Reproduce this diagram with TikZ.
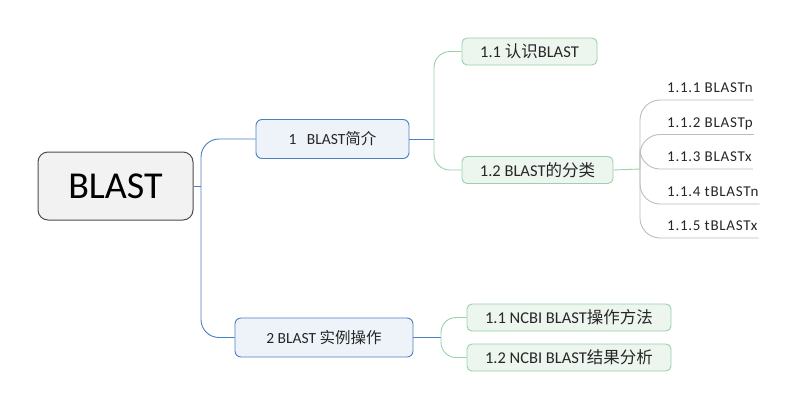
\documentclass[tikz,border=0pt]{standalone}
\usepackage{fontspec}
\setmainfont{Carlito}
\newfontfamily\cjk{Noto Sans CJK SC}
\newfontfamily\leaffont[LetterSpace=5]{Carlito}
\usetikzlibrary{positioning}
\definecolor{MMRootFill}{HTML}{F2F2F2}
\definecolor{MMRootLine}{HTML}{4D4D4D}
\definecolor{MMBlue}{HTML}{4A80C2}
\definecolor{MMBlueFill}{HTML}{EEF3FA}
\definecolor{MMGreen}{HTML}{98D2AA}
\definecolor{MMGreenFill}{HTML}{EDF5EF}
\definecolor{MMGray}{HTML}{BDBDBD}
\definecolor{MMInk}{HTML}{262626}
\newcommand{\zh}[1]{{\cjk #1}}
\tikzset{
  rootbox/.style={draw=MMRootLine,line width=1.0pt,fill=MMRootFill,rounded corners=10pt,
                  minimum width=155pt,minimum height=68pt,text=black,
                  font=\fontsize{38}{42}\selectfont},
  topicbox/.style={draw=MMBlue,line width=0.9pt,fill=MMBlueFill,rounded corners=6pt,
                   minimum height=39pt,text=MMInk,font=\fontsize{15.5}{18}\selectfont},
  subbox/.style={draw=MMGreen,line width=0.9pt,fill=MMGreenFill,rounded corners=5pt,
                 minimum height=27pt,text=MMInk,font=\fontsize{16.5}{18}\selectfont},
  leaf/.style={anchor=south west,inner xsep=1pt,inner ysep=7pt,text height=10pt,
               text depth=0pt,text=MMInk,font=\leaffont\fontsize{15}{17}\selectfont},
  bluelink/.style={MMBlue,line width=0.9pt},
  greenlink/.style={MMGreen,line width=0.9pt},
  graylink/.style={MMGray,line width=0.9pt},
}
\begin{document}
\begin{tikzpicture}[x=1pt,y=-1pt]
  \useasboundingbox[fill=white] (0,0) rectangle (799,410);

  % root and main topics
  \node[rootbox] (root) at (115.5,186) {BLAST};
  \node[topicbox,minimum width=153pt] (intro) at (332.5,139) {1\ \ \ BLAST\zh{简介}};
  \node[topicbox,minimum width=178pt] (ops) at (324,337.5) {2 BLAST \zh{实例操作}};

  \coordinate (t0) at (201,186);
  \draw[bluelink] (root.east) -- (t0);
  \draw[bluelink,rounded corners=18pt] (t0) |- (intro.west);
  \draw[bluelink,rounded corners=18pt] (t0) |- (ops.west);

  % subtopics of 1
  \node[subbox,minimum width=135pt] (know) at (529.5,51.5) {1.1 \zh{认识}BLAST};
  \node[subbox,minimum width=151pt] (kinds) at (537.5,170) {1.2 BLAST\zh{的分类}};

  \coordinate (t1) at (434,139);
  \draw[bluelink] (intro.east) -- (t1);
  \draw[greenlink,rounded corners=16pt] (t1) |- (know.west);
  \draw[greenlink,rounded corners=16pt] (t1) |- (kinds.west);

  % program list
  \node[leaf] (bn) at (666,100) {1.1.1 BLASTn};
  \node[leaf] (bp) at (666,134.5) {1.1.2 BLASTp};
  \node[leaf] (bx) at (666,169) {1.1.3 BLASTx};
  \node[leaf] (tbn) at (666,204) {1.1.4 tBLASTn};
  \node[leaf] (tbx) at (666,238) {1.1.5 tBLASTx};

  \coordinate (t2) at (640,169);
  \draw[greenlink] (kinds.east) -- (t2);
  \foreach \n in {bn,bp,bx,tbn,tbx}{
    \draw[graylink,rounded corners=20pt] (t2) |- (\n.south east);
  }

  % subtopics of 2
  \node[subbox,minimum width=204pt] (howto) at (569,317.5) {1.1 NCBI BLAST\zh{操作方法}};
  \node[subbox,minimum width=204pt] (result) at (569,357.5) {1.2 NCBI BLAST\zh{结果分析}};

  \coordinate (t3) at (441,337.5);
  \draw[bluelink] (ops.east) -- (t3);
  \draw[greenlink,rounded corners=15pt] (t3) |- (howto.west);
  \draw[greenlink,rounded corners=15pt] (t3) |- (result.west);
\end{tikzpicture}
\end{document}
